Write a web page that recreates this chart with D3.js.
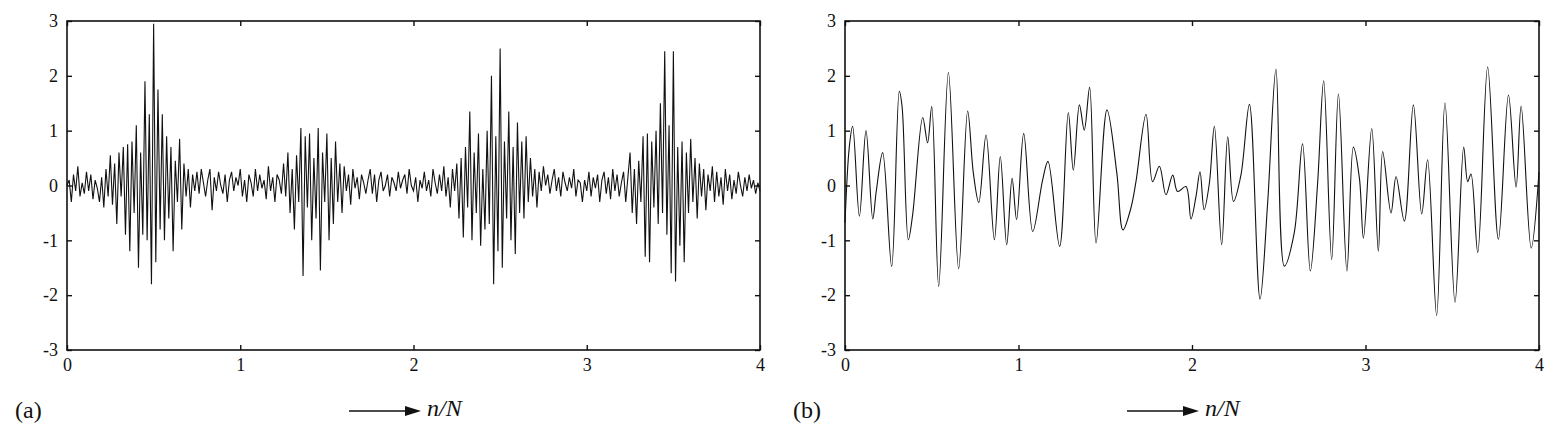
<!DOCTYPE html>
<html><head><meta charset="utf-8">
<script src="https://cdn.jsdelivr.net/npm/d3@7"></script>
<style>body{margin:0;background:#fff}text{font-family:"Liberation Serif","DejaVu Serif",serif}</style>
</head><body>
<svg id="chart" width="1549" height="436"></svg>
<script>
// panel (a): samples every 1/80 of n/N
var sigA=[
0.0,0.1,-0.3,0.2,-0.1,0.35,-0.2,0.05,-0.15,0.25,-0.1,0.2,-0.25,0.1,-0.05,-0.3,0.15,-0.4,0.3,-0.2,
0.55,-0.35,0.4,-0.7,0.6,-0.2,0.7,-0.9,0.75,-1.2,0.8,-0.5,1.1,-1.5,0.6,-0.9,1.9,-1.0,1.3,-1.8,
2.95,-1.4,1.75,-0.8,1.3,-1.0,0.9,-0.6,0.7,-1.2,0.45,-0.3,0.85,-0.8,0.4,-0.2,0.3,-0.4,0.2,-0.1,
0.25,-0.15,0.3,0.05,-0.2,0.1,0.3,-0.45,0.15,-0.1,0.25,0.0,-0.15,0.2,-0.3,0.1,0.25,-0.1,0.15,0.0,
0.3,-0.2,0.1,-0.3,0.2,0.05,-0.2,0.3,-0.1,0.2,-0.05,0.1,-0.25,0.35,-0.1,0.15,-0.3,0.2,0.1,-0.15,
0.4,-0.2,0.6,-0.5,0.3,-0.8,0.55,-0.3,1.05,-1.65,0.9,-0.4,0.95,-1.0,0.5,-0.6,1.05,-1.55,0.6,-0.3,
0.95,-1.0,0.5,-0.7,0.8,-0.3,0.4,-0.5,0.35,-0.1,0.2,-0.35,0.3,-0.05,0.15,-0.25,0.2,0.05,-0.15,0.1,
0.3,-0.15,0.2,-0.3,0.1,0.25,-0.1,0.0,0.2,-0.2,0.15,0.05,-0.1,0.25,-0.05,0.1,0.2,-0.15,0.3,0.0,
-0.1,0.15,-0.3,0.1,-0.05,0.25,-0.1,0.1,-0.2,0.3,0.05,-0.15,0.2,-0.1,0.35,-0.2,0.15,-0.4,0.3,-0.1,
0.4,-0.6,0.5,-0.95,0.7,-0.4,1.35,-1.0,0.6,-0.5,0.95,-1.1,0.3,-0.8,1.0,-0.7,2.0,-1.8,0.9,-1.2,
2.5,-1.5,0.8,-0.6,1.35,-1.0,0.7,-1.25,1.15,-0.5,0.8,-0.6,0.9,-0.3,0.5,-0.2,0.3,-0.4,0.25,-0.1,
0.35,0.0,0.2,-0.15,0.1,0.3,-0.1,0.15,-0.2,0.25,0.05,-0.1,0.15,-0.05,0.3,-0.2,0.1,0.05,-0.3,0.1,
-0.1,0.25,-0.2,0.15,-0.05,0.2,-0.3,0.1,0.25,-0.15,0.15,-0.25,0.3,-0.1,0.2,-0.2,0.05,0.25,-0.3,0.15,
0.6,-0.5,0.3,-0.7,0.45,-0.3,0.9,-1.3,0.95,-1.4,0.8,-0.4,1.0,-0.7,1.5,-0.5,2.45,-0.9,1.1,-1.6,
2.45,-1.75,0.7,-1.1,0.8,-1.4,0.6,-0.5,0.85,-0.3,0.5,-0.6,0.4,-0.2,0.3,-0.45,0.2,-0.1,0.35,-0.3,
0.25,-0.2,0.15,-0.35,0.3,-0.1,0.2,-0.25,0.1,-0.15,0.25,0.0,-0.2,0.15,-0.1,0.2,-0.05,0.1,-0.15,0.05,-0.1];
// panel (b): turning points [n/N, value]
var xB=[0,0.025,0.044,0.083,0.121,0.16,0.18,0.217,0.269,0.313,0.329,0.365,0.39,0.448,0.476,0.5,0.54,0.596,0.655,0.707,0.74,0.771,0.813,0.861,0.895,0.932,0.963,0.989,1.03,1.082,1.139,1.17,1.237,1.287,1.316,1.351,1.379,1.41,1.447,1.51,1.567,1.602,1.648,1.677,1.735,1.773,1.812,1.85,1.889,1.917,1.965,1.994,2.023,2.046,2.07,2.1,2.129,2.171,2.206,2.239,2.282,2.331,2.392,2.436,2.484,2.532,2.589,2.637,2.682,2.724,2.759,2.805,2.844,2.893,2.93,2.965,2.988,3.036,3.074,3.099,3.147,3.176,3.224,3.276,3.324,3.358,3.41,3.458,3.516,3.566,3.589,3.608,3.647,3.704,3.766,3.824,3.868,3.897,3.955,4.0];
var yB=[-0.68,0.71,1.08,-0.56,1.0,-0.61,-0.11,0.6,-1.48,1.72,1.44,-0.99,-0.53,1.24,0.78,1.44,-1.84,2.06,-1.52,1.36,0.22,-0.31,0.92,-0.99,0.53,-1.08,0.13,-0.62,0.95,-0.84,0.1,0.44,-1.11,1.33,0.28,1.47,1.01,1.79,-1.05,1.38,0.22,-0.81,-0.41,0.07,1.3,0.07,0.35,-0.17,0.19,-0.11,-0.02,-0.61,-0.2,0.25,-0.44,0.04,1.08,-1.08,0.89,-0.29,0.19,1.48,-2.07,-0.32,2.12,-1.47,-0.87,0.76,-1.56,0.04,1.91,-1.35,1.67,-1.56,0.7,0.13,-0.96,1.04,-1.2,0.62,-0.5,0.16,-0.65,1.47,-0.52,0.47,-2.37,1.51,-2.13,0.7,0.07,0.21,-1.22,2.16,-0.98,1.65,-0.03,1.45,-1.14,0.25];
var xTicks=[0,1,2,3,4];
var yTicks=[-3,-2,-1,0,1,2,3];

var svg=d3.select("#chart");
var y=d3.scaleLinear().domain([-3,3]).range([350,21]);

function panel(x0,x1,pts,curve,label){
    var x=d3.scaleLinear().domain([0,4]).range([x0,x1]);
    var g=svg.append("g");
    var line=d3.line().x(d=>x(d[0])).y(d=>y(d[1])).curve(curve);
    g.append("path").attr("d",line(pts)).attr("fill","none").attr("stroke","#111").attr("stroke-width",1.1);
    g.append("rect").attr("x",x0).attr("y",21).attr("width",x1-x0).attr("height",329).attr("fill","none").attr("stroke","#111").attr("stroke-width",1.6);
    g.append("g").attr("transform","translate(0,350)").call(d3.axisBottom(x).tickValues(xTicks).tickSize(-5).tickPadding(8).tickFormat(d=>String(d)));
    g.append("g").attr("transform","translate(0,21)").call(d3.axisTop(x).tickValues(xTicks).tickSize(-5).tickFormat(""));
    g.append("g").attr("transform","translate("+x0+",0)").call(d3.axisLeft(y).tickValues(yTicks).tickSize(-5).tickPadding(9).tickFormat(d=>String(d)));
    g.append("g").attr("transform","translate("+x1+",0)").call(d3.axisRight(y).tickValues(yTicks).tickSize(-5).tickFormat(""));
    g.selectAll(".domain").remove();
    g.selectAll(".tick line").attr("stroke","#111").attr("stroke-width",1.4);
    g.selectAll(".tick text").attr("font-size",18).attr("fill","#111").style("font-family","Liberation Serif");
    var ly=418;
    g.append("text").attr("x",x0-52).attr("y",ly).attr("font-size",24).attr("fill","#111").text(label);
    var ar=x0+282;
    g.append("line").attr("x1",ar).attr("x2",ar+62).attr("y1",ly-7).attr("y2",ly-7).attr("stroke","#111").attr("stroke-width",1.6);
    g.append("path").attr("d","M"+(ar+72)+","+(ly-7)+"l-16,-5l0,10z").attr("fill","#111");
    g.append("text").attr("x",ar+78).attr("y",ly-2).attr("font-size",24).attr("font-style","italic").attr("fill","#111").text("n/N");
}
panel(67,760,sigA.map((v,i)=>[i/80,v]),d3.curveLinear,"(a)");
panel(845,1539,xB.map((v,i)=>[v,yB[i]]),d3.curveCatmullRom,"(b)");
</script>
</body></html>
